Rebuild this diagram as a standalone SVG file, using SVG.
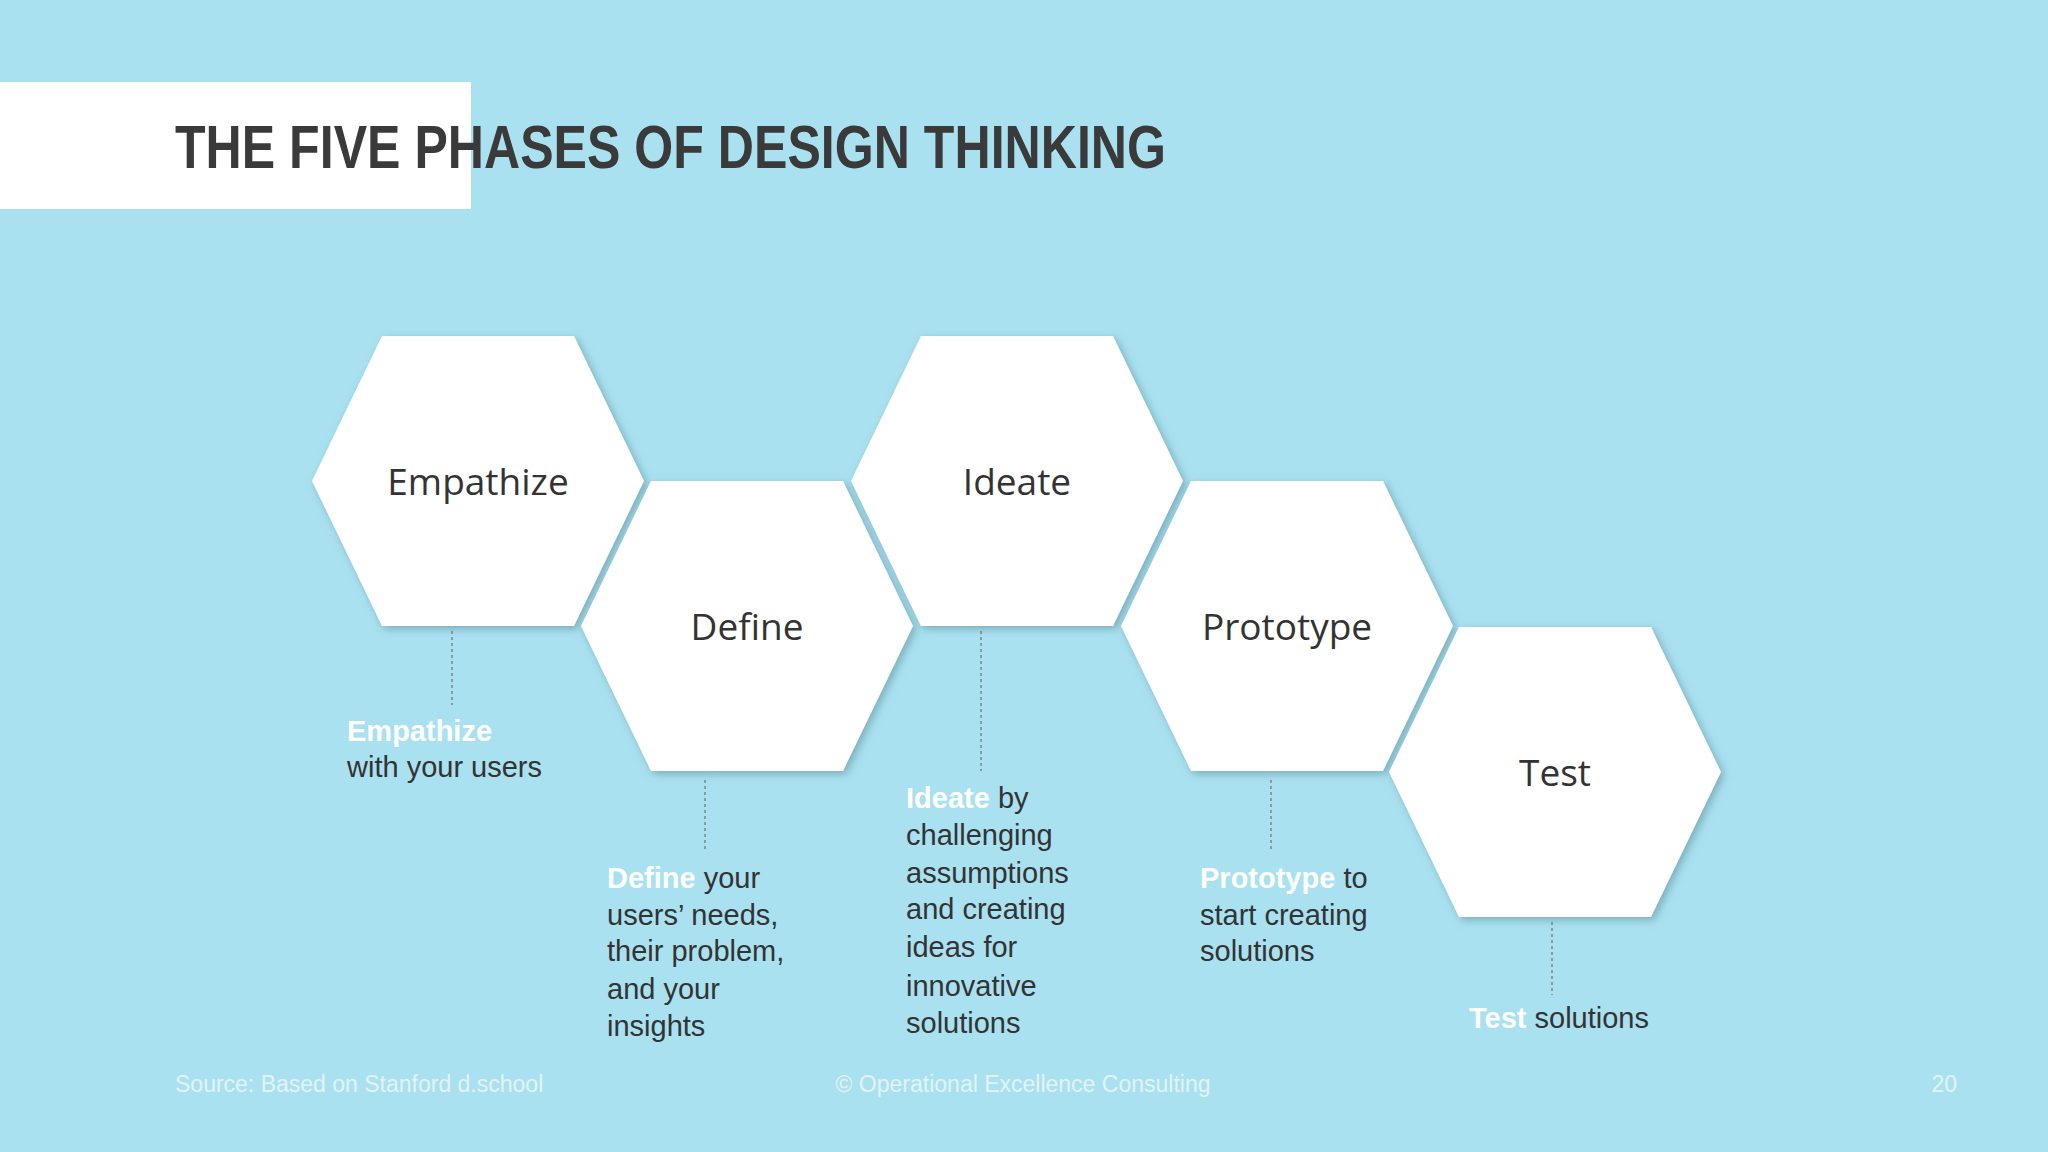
<svg xmlns="http://www.w3.org/2000/svg" width="2048" height="1152" viewBox="0 0 2048 1152">
<style>
.hex{fill:#ffffff;filter:url(#sh)}
.hl{font-family:"Open Sans","Noto Sans",sans-serif;font-size:37px;fill:#333;text-anchor:middle}
.d{font-family:"Liberation Sans",Arial,sans-serif;font-size:29px;fill:#333}
.b{fill:#fff;font-weight:bold}
.f{font-family:"Liberation Sans",Arial,sans-serif;font-size:23px;fill:#e2f3f8}
.c{stroke:#8a9aa0;stroke-width:2;stroke-dasharray:3 3;fill:none}
</style>
<defs>
<filter id="sh" x="-20%" y="-20%" width="140%" height="140%"><feDropShadow dx="3" dy="3" stdDeviation="4" flood-color="#5a8a98" flood-opacity="0.6"/></filter>
<polygon id="h" points="-96,-145 96,-145 166,0 96,145 -96,145 -166,0"/>
</defs>
<rect width="2048" height="1152" fill="#a9e1f0"/>
<rect x="0" y="82" width="471" height="127" fill="#ffffff"/>
<text x="175" y="168" font-family="Liberation Sans,Arial,sans-serif" font-weight="bold" font-size="62" fill="#3a3a3a" textLength="991" lengthAdjust="spacingAndGlyphs">THE FIVE PHASES OF DESIGN THINKING</text>
<g id="connectors">
<line class="c" x1="452" y1="631" x2="452" y2="705"/>
<line class="c" x1="705" y1="780" x2="705" y2="852"/>
<line class="c" x1="981" y1="631" x2="981" y2="771"/>
<line class="c" x1="1271" y1="780" x2="1271" y2="852"/>
<line class="c" x1="1552" y1="922" x2="1552" y2="995"/>
</g>
<g id="empathize"><use href="#h" class="hex" x="478" y="481"/><text class="hl" x="478" y="495">Empathize</text></g>
<g id="define"><use href="#h" class="hex" x="747" y="626"/><text class="hl" x="747" y="640">Define</text></g>
<g id="ideate"><use href="#h" class="hex" x="1017" y="481"/><text class="hl" x="1017" y="495">Ideate</text></g>
<g id="prototype"><use href="#h" class="hex" x="1287" y="626"/><text class="hl" x="1287" y="640">Prototype</text></g>
<g id="test"><use href="#h" class="hex" x="1555" y="772"/><text class="hl" x="1555" y="786">Test</text></g>
<g id="desc-empathize"><text class="d" x="347" y="741"><tspan class="b">Empathize</tspan></text><text class="d" x="347" y="777">with your users</text></g>
<g id="desc-define"><text class="d" x="607" y="888"><tspan class="b">Define</tspan> your</text><text class="d" x="607" y="925">users’ needs,</text><text class="d" x="607" y="961">their problem,</text><text class="d" x="607" y="999">and your</text><text class="d" x="607" y="1036">insights</text></g>
<g id="desc-ideate"><text class="d" x="906" y="808"><tspan class="b">Ideate</tspan> by</text><text class="d" x="906" y="845">challenging</text><text class="d" x="906" y="883">assumptions</text><text class="d" x="906" y="919">and creating</text><text class="d" x="906" y="957">ideas for</text><text class="d" x="906" y="996">innovative</text><text class="d" x="906" y="1033">solutions</text></g>
<g id="desc-prototype"><text class="d" x="1200" y="888"><tspan class="b">Prototype</tspan> to</text><text class="d" x="1200" y="925">start creating</text><text class="d" x="1200" y="961">solutions</text></g>
<g id="desc-test"><text class="d" x="1469" y="1028"><tspan class="b">Test</tspan> solutions</text></g>
<text class="f" x="175" y="1092">Source: Based on Stanford d.school</text>
<text class="f" x="1023" y="1092" text-anchor="middle">© Operational Excellence Consulting</text>
<text class="f" x="1957" y="1092" text-anchor="end">20</text>
</svg>
